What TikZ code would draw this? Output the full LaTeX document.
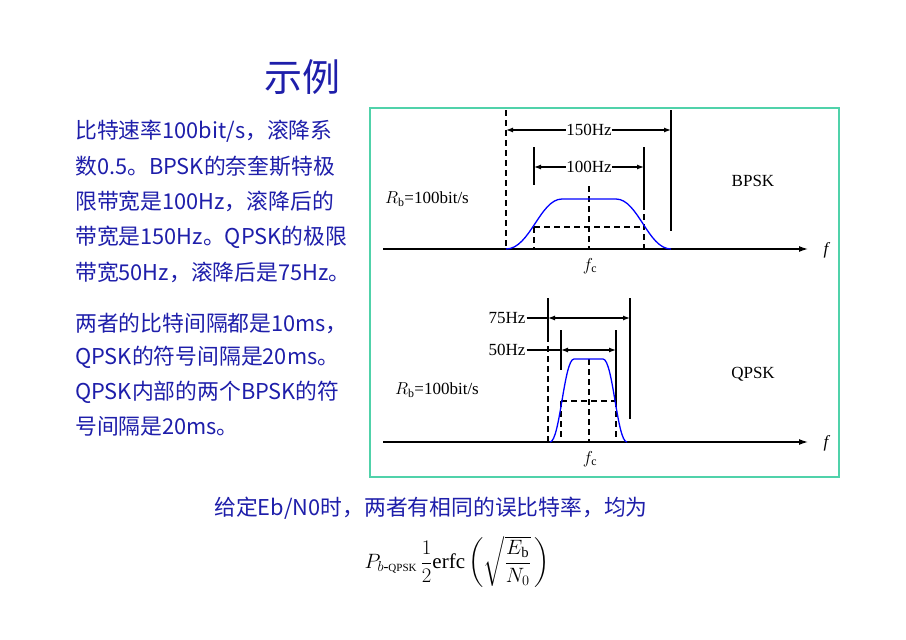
\documentclass[tikz,border=0pt]{standalone}
\usepackage{fontspec}
\usepackage{amsmath}
\setmainfont{Liberation Serif}
\newfontfamily\cjk{Noto Sans CJK SC}
\usetikzlibrary{arrows.meta}
\definecolor{tblue}{RGB}{30,30,170}
\definecolor{boxc}{RGB}{80,210,170}
\begin{document}
\begin{tikzpicture}[x=1pt,y=-1pt,
  txt/.style={anchor=west,inner sep=0pt,text=tblue,font=\cjk\fontsize{21.8}{21.8}\selectfont},
  lab/.style={inner sep=1pt,font=\fontsize{17}{17}\selectfont},
  dim/.style={{Latex[length=7pt,width=5pt]}-{Latex[length=7pt,width=5pt]},line width=1.2pt},
  ax/.style={-{Latex[length=9pt,width=6pt]},line width=1.3pt},
  dsh/.style={line width=1.3pt,dash pattern=on 6pt off 4pt},
  sol/.style={line width=1.3pt},
  spec/.style={blue,line width=1.3pt}]
\useasboundingbox (0,0) rectangle (906,640);
\node[text=tblue,font=\cjk\fontsize{38}{38}\selectfont] (title) at (302,77) {示例};
\node[txt] (l1) at (75,131) {比特速率100bit/s，滚降系};
\node[txt] (l2) at (75,166) {数0.5。BPSK的奈奎斯特极};
\node[txt] (l3) at (75,201) {限带宽是100Hz，滚降后的};
\node[txt] (l4) at (75,237) {带宽是150Hz。QPSK的极限};
\node[txt] (l5) at (75,272) {带宽50Hz，滚降后是75Hz。};
\node[txt] (l6) at (75,323) {两者的比特间隔都是10ms，};
\node[txt] (l7) at (75,357) {QPSK的符号间隔是20ms。};
\node[txt] (l8) at (75,392) {QPSK内部的两个BPSK的符};
\node[txt] (l9) at (75,426) {号间隔是20ms。};
\node[txt,anchor=center] (l10) at (431,508) {给定Eb/N0时，两者有相同的误比特率，均为};
\node[inner sep=0pt] (formula) at (457,562) {\fontsize{21}{21}\selectfont $P_{b\text{-\fontsize{11}{11}\selectfont QPSK}}\,\dfrac{1}{2}\mathrm{erfc}\left(\sqrt{\dfrac{E_{\mathrm b}}{N_0}}\,\right)$};
\draw[boxc,line width=1.2pt] (370,108) rectangle (839,477);
% top
\coordinate (a0) at (383,249); \coordinate (a1) at (808,249);
\draw[ax] (a0) -- (a1);
\node[lab] (f1) at (826,250) {\itshape f};
\draw[dsh] (506,110) -- (506,249);
\draw[sol] (671,110) -- (671,231);
\draw[sol] (534,147) -- (534,185);
\draw[dsh] (534,227) -- (534,249);
\draw[sol] (644,147) -- (644,204);
\draw[dsh] (644,204) -- (644,249);
\draw[dsh] (534,227) -- (644,227);
\draw[dsh] (589,186) -- (589,249);
\coordinate (d1) at (506,130); \coordinate (d2) at (671,130);
\draw[dim] (d1) -- (d2);
\node[lab,fill=white,inner sep=0.5pt] (h150) at (589,130) {150Hz};
\coordinate (d3) at (534,167); \coordinate (d4) at (644,167);
\draw[dim] (d3) -- (d4);
\node[lab,fill=white,inner sep=0.5pt] (h100) at (589,167) {100Hz};
\draw[spec] (506,249) .. controls (530,249) and (540,199) .. (562,199) -- (616,199) .. controls (638,199) and (648,249) .. (671,249);
\node[lab] (fc1) at (590,266) {$f_{\mathrm c}$};
\node[lab] (rb1) at (427,199) {$R_{\mathrm b}$=100bit/s};
\node[lab] (bpsk) at (753,181) {BPSK};
% bottom
\coordinate (b0) at (383,442); \coordinate (b1) at (808,442);
\draw[ax] (b0) -- (b1);
\node[lab] (f2) at (826,443) {\itshape f};
\draw[sol] (548,298) -- (548,336);
\draw[dsh] (548,336) -- (548,442);
\draw[sol] (630,298) -- (630,419);
\draw[sol] (561,330) -- (561,370);
\draw[dsh] (561,401) -- (561,442);
\draw[sol] (616,330) -- (616,401);
\draw[dsh] (616,401) -- (616,442);
\draw[dsh] (561,401) -- (616,401);
\draw[dsh] (589,359) -- (589,442);
\node[lab] (h75) at (507,318) {75Hz};
\node[lab] (h50) at (507,350) {50Hz};
\coordinate (e1) at (548,318); \coordinate (e2) at (630,318);
\draw[sol] (h75.east) -- (e1);
\draw[dim] (e1) -- (e2);
\coordinate (e3) at (561,350); \coordinate (e4) at (616,350);
\draw[sol] (h50.east) -- (e3);
\draw[dim] (e3) -- (e4);
\draw[spec] (550,442) .. controls (560,442) and (564,359) .. (574,359) -- (603,359) .. controls (613,359) and (617,442) .. (627,442);
\node[lab] (fc2) at (590,459) {$f_{\mathrm c}$};
\node[lab] (rb2) at (437,390) {$R_{\mathrm b}$=100bit/s};
\node[lab] (qpsk) at (753,374) {QPSK};
\end{tikzpicture}
\end{document}
